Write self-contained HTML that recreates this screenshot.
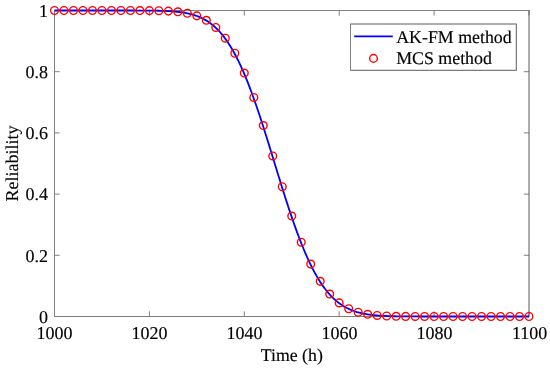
<!DOCTYPE html>
<html><head><meta charset="utf-8"><style>
html,body{margin:0;padding:0;background:#fff;}
svg{display:block;}
text{font-family:"Liberation Serif","Times New Roman",serif;fill:#000;text-rendering:geometricPrecision;stroke:#000;stroke-width:0.15px;}
</style></head><body>
<svg width="550" height="368" viewBox="0 0 550 368">
<rect width="550" height="368" fill="#fff"/>
<g fill="none" stroke="#808080" stroke-width="1">
<path d="M54.50,316.5V311.30M54.50,10.5V15.70M149.40,316.5V311.30M149.40,10.5V15.70M244.30,316.5V311.30M244.30,10.5V15.70M339.20,316.5V311.30M339.20,10.5V15.70M434.10,316.5V311.30M434.10,10.5V15.70M529.00,316.5V311.30M529.00,10.5V15.70M54.5,316.50H59.70M529.0,316.50H523.80M54.5,255.30H59.70M529.0,255.30H523.80M54.5,194.10H59.70M529.0,194.10H523.80M54.5,132.90H59.70M529.0,132.90H523.80M54.5,71.70H59.70M529.0,71.70H523.80M54.5,10.50H59.70M529.0,10.50H523.80"/>
<path d="M54.5,10.0V317.0M55.0,10.5H528.5M55.0,316.5H528.5"/>
<path d="M529.0,10.0V317.0" stroke="#5a5a5a"/>
</g>
<path d="M54.50,10.50 L55.69,10.50 L56.87,10.50 L58.06,10.50 L59.24,10.50 L60.43,10.50 L61.62,10.50 L62.80,10.50 L63.99,10.50 L65.18,10.50 L66.36,10.50 L67.55,10.50 L68.73,10.50 L69.92,10.50 L71.11,10.50 L72.29,10.50 L73.48,10.50 L74.67,10.50 L75.85,10.50 L77.04,10.50 L78.22,10.50 L79.41,10.50 L80.60,10.50 L81.78,10.50 L82.97,10.50 L84.16,10.50 L85.34,10.50 L86.53,10.50 L87.72,10.50 L88.90,10.50 L90.09,10.50 L91.27,10.50 L92.46,10.50 L93.65,10.50 L94.83,10.50 L96.02,10.50 L97.20,10.50 L98.39,10.50 L99.58,10.50 L100.76,10.50 L101.95,10.50 L103.14,10.50 L104.32,10.50 L105.51,10.50 L106.69,10.50 L107.88,10.50 L109.07,10.50 L110.25,10.50 L111.44,10.50 L112.63,10.50 L113.81,10.50 L115.00,10.50 L116.19,10.50 L117.37,10.50 L118.56,10.50 L119.74,10.50 L120.93,10.50 L122.12,10.51 L123.30,10.51 L124.49,10.51 L125.67,10.51 L126.86,10.51 L128.05,10.51 L129.23,10.51 L130.42,10.51 L131.61,10.52 L132.79,10.52 L133.98,10.52 L135.17,10.52 L136.35,10.53 L137.54,10.53 L138.72,10.53 L139.91,10.54 L141.10,10.54 L142.28,10.55 L143.47,10.56 L144.66,10.56 L145.84,10.57 L147.03,10.58 L148.21,10.59 L149.40,10.61 L150.59,10.62 L151.77,10.63 L152.96,10.65 L154.14,10.67 L155.33,10.69 L156.52,10.71 L157.70,10.74 L158.89,10.76 L160.08,10.79 L161.26,10.83 L162.45,10.87 L163.63,10.91 L164.82,10.95 L166.01,11.00 L167.19,11.06 L168.38,11.12 L169.57,11.19 L170.75,11.26 L171.94,11.34 L173.12,11.43 L174.31,11.52 L175.50,11.63 L176.68,11.74 L177.87,11.86 L179.06,12.00 L180.24,12.15 L181.43,12.31 L182.62,12.48 L183.80,12.66 L184.99,12.87 L186.17,13.09 L187.36,13.32 L188.55,13.58 L189.73,13.85 L190.92,14.15 L192.10,14.47 L193.29,14.81 L194.48,15.17 L195.66,15.57 L196.85,15.99 L198.04,16.44 L199.22,16.92 L200.41,17.43 L201.59,17.98 L202.78,18.56 L203.97,19.18 L205.15,19.84 L206.34,20.54 L207.53,21.29 L208.71,22.07 L209.90,22.91 L211.09,23.79 L212.27,24.72 L213.46,25.70 L214.64,26.74 L215.83,27.83 L217.02,28.98 L218.20,30.18 L219.39,31.45 L220.57,32.77 L221.76,34.16 L222.95,35.62 L224.13,37.14 L225.32,38.72 L226.51,40.38 L227.69,42.11 L228.88,43.90 L230.06,45.77 L231.25,47.71 L232.44,49.72 L233.62,51.81 L234.81,53.97 L236.00,56.21 L237.18,58.52 L238.37,60.91 L239.56,63.37 L240.74,65.91 L241.93,68.52 L243.11,71.21 L244.30,73.96 L245.49,76.79 L246.67,79.69 L247.86,82.66 L249.04,85.70 L250.23,88.81 L251.42,91.98 L252.60,95.21 L253.79,98.50 L254.98,101.86 L256.16,105.26 L257.35,108.73 L258.53,112.24 L259.72,115.80 L260.91,119.40 L262.09,123.05 L263.28,126.73 L264.47,130.45 L265.65,134.21 L266.84,137.98 L268.02,141.79 L269.21,145.61 L270.40,149.46 L271.58,153.31 L272.77,157.17 L273.96,161.04 L275.14,164.91 L276.33,168.78 L277.51,172.64 L278.70,176.50 L279.89,180.34 L281.07,184.16 L282.26,187.95 L283.45,191.73 L284.63,195.47 L285.82,199.19 L287.00,202.86 L288.19,206.50 L289.38,210.10 L290.56,213.65 L291.75,217.15 L292.94,220.60 L294.12,224.00 L295.31,227.35 L296.50,230.63 L297.68,233.86 L298.87,237.02 L300.05,240.11 L301.24,243.14 L302.43,246.11 L303.61,249.00 L304.80,251.83 L305.99,254.58 L307.17,257.26 L308.36,259.87 L309.54,262.41 L310.73,264.87 L311.92,267.26 L313.10,269.57 L314.29,271.81 L315.48,273.98 L316.66,276.07 L317.85,278.09 L319.03,280.04 L320.22,281.92 L321.41,283.73 L322.59,285.46 L323.78,287.13 L324.96,288.73 L326.15,290.27 L327.34,291.74 L328.52,293.15 L329.71,294.49 L330.90,295.78 L332.08,297.00 L333.27,298.17 L334.45,299.28 L335.64,300.34 L336.83,301.35 L338.01,302.30 L339.20,303.21 L340.39,304.07 L341.57,304.88 L342.76,305.65 L343.94,306.37 L345.13,307.06 L346.32,307.70 L347.50,308.31 L348.69,308.89 L349.88,309.43 L351.06,309.93 L352.25,310.41 L353.44,310.85 L354.62,311.27 L355.81,311.66 L356.99,312.03 L358.18,312.37 L359.37,312.69 L360.55,312.98 L361.74,313.26 L362.93,313.52 L364.11,313.76 L365.30,313.98 L366.48,314.19 L367.67,314.38 L368.86,314.55 L370.04,314.72 L371.23,314.87 L372.42,315.01 L373.60,315.14 L374.79,315.26 L375.97,315.37 L377.16,315.47 L378.35,315.56 L379.53,315.64 L380.72,315.72 L381.90,315.79 L383.09,315.86 L384.28,315.92 L385.46,315.97 L386.65,316.02 L387.84,316.07 L389.02,316.11 L390.21,316.15 L391.39,316.18 L392.58,316.22 L393.77,316.24 L394.95,316.27 L396.14,316.29 L397.33,316.31 L398.51,316.33 L399.70,316.35 L400.88,316.37 L402.07,316.38 L403.26,316.39 L404.44,316.40 L405.63,316.41 L406.82,316.42 L408.00,316.43 L409.19,316.44 L410.38,316.45 L411.56,316.45 L412.75,316.46 L413.93,316.46 L415.12,316.47 L416.31,316.47 L417.49,316.47 L418.68,316.48 L419.87,316.48 L421.05,316.48 L422.24,316.48 L423.42,316.49 L424.61,316.49 L425.80,316.49 L426.98,316.49 L428.17,316.49 L429.36,316.49 L430.54,316.49 L431.73,316.49 L432.91,316.50 L434.10,316.50 L435.29,316.50 L436.47,316.50 L437.66,316.50 L438.85,316.50 L440.03,316.50 L441.22,316.50 L442.40,316.50 L443.59,316.50 L444.78,316.50 L445.96,316.50 L447.15,316.50 L448.33,316.50 L449.52,316.50 L450.71,316.50 L451.89,316.50 L453.08,316.50 L454.27,316.50 L455.45,316.50 L456.64,316.50 L457.82,316.50 L459.01,316.50 L460.20,316.50 L461.38,316.50 L462.57,316.50 L463.76,316.50 L464.94,316.50 L466.13,316.50 L467.31,316.50 L468.50,316.50 L469.69,316.50 L470.87,316.50 L472.06,316.50 L473.25,316.50 L474.43,316.50 L475.62,316.50 L476.81,316.50 L477.99,316.50 L479.18,316.50 L480.36,316.50 L481.55,316.50 L482.74,316.50 L483.92,316.50 L485.11,316.50 L486.30,316.50 L487.48,316.50 L488.67,316.50 L489.85,316.50 L491.04,316.50 L492.23,316.50 L493.41,316.50 L494.60,316.50 L495.79,316.50 L496.97,316.50 L498.16,316.50 L499.34,316.50 L500.53,316.50 L501.72,316.50 L502.90,316.50 L504.09,316.50 L505.27,316.50 L506.46,316.50 L507.65,316.50 L508.83,316.50 L510.02,316.50 L511.21,316.50 L512.39,316.50 L513.58,316.50 L514.76,316.50 L515.95,316.50 L517.14,316.50 L518.32,316.50 L519.51,316.50 L520.70,316.50 L521.88,316.50 L523.07,316.50 L524.25,316.50 L525.44,316.50 L526.63,316.50 L527.81,316.50 L529.00,316.50" fill="none" stroke="#0000ff" stroke-width="1.8" stroke-linejoin="round"/>
<g fill="none" stroke="#ff0000" stroke-width="1.4"><circle cx="54.50" cy="10.50" r="3.85"/><circle cx="63.99" cy="10.50" r="3.85"/><circle cx="73.48" cy="10.50" r="3.85"/><circle cx="82.97" cy="10.50" r="3.85"/><circle cx="92.46" cy="10.50" r="3.85"/><circle cx="101.95" cy="10.50" r="3.85"/><circle cx="111.44" cy="10.50" r="3.85"/><circle cx="120.93" cy="10.50" r="3.85"/><circle cx="130.42" cy="10.51" r="3.85"/><circle cx="139.91" cy="10.54" r="3.85"/><circle cx="149.40" cy="10.60" r="3.85"/><circle cx="158.89" cy="10.75" r="3.85"/><circle cx="168.38" cy="11.10" r="3.85"/><circle cx="177.87" cy="11.82" r="3.85"/><circle cx="187.36" cy="13.24" r="3.85"/><circle cx="196.85" cy="15.85" r="3.85"/><circle cx="206.34" cy="20.32" r="3.85"/><circle cx="215.83" cy="27.47" r="3.85"/><circle cx="225.32" cy="38.21" r="3.85"/><circle cx="234.81" cy="53.27" r="3.85"/><circle cx="244.30" cy="73.07" r="3.85"/><circle cx="253.79" cy="97.44" r="3.85"/><circle cx="263.28" cy="125.55" r="3.85"/><circle cx="272.77" cy="155.94" r="3.85"/><circle cx="282.26" cy="186.74" r="3.85"/><circle cx="291.75" cy="216.04" r="3.85"/><circle cx="301.24" cy="242.18" r="3.85"/><circle cx="310.73" cy="264.09" r="3.85"/><circle cx="320.22" cy="281.33" r="3.85"/><circle cx="329.71" cy="294.07" r="3.85"/><circle cx="339.20" cy="302.92" r="3.85"/><circle cx="348.69" cy="308.71" r="3.85"/><circle cx="358.18" cy="312.26" r="3.85"/><circle cx="367.67" cy="314.32" r="3.85"/><circle cx="377.16" cy="315.44" r="3.85"/><circle cx="386.65" cy="316.01" r="3.85"/><circle cx="396.14" cy="316.29" r="3.85"/><circle cx="405.63" cy="316.41" r="3.85"/><circle cx="415.12" cy="316.47" r="3.85"/><circle cx="424.61" cy="316.49" r="3.85"/><circle cx="434.10" cy="316.50" r="3.85"/><circle cx="443.59" cy="316.50" r="3.85"/><circle cx="453.08" cy="316.50" r="3.85"/><circle cx="462.57" cy="316.50" r="3.85"/><circle cx="472.06" cy="316.50" r="3.85"/><circle cx="481.55" cy="316.50" r="3.85"/><circle cx="491.04" cy="316.50" r="3.85"/><circle cx="500.53" cy="316.50" r="3.85"/><circle cx="510.02" cy="316.50" r="3.85"/><circle cx="519.51" cy="316.50" r="3.85"/><circle cx="529.00" cy="316.50" r="3.85"/></g>
<g font-size="18"><text x="54.50" y="339.2" text-anchor="middle">1000</text><text x="149.52" y="339.2" text-anchor="middle">1020</text><text x="244.54" y="339.2" text-anchor="middle">1040</text><text x="339.56" y="339.2" text-anchor="middle">1060</text><text x="434.58" y="339.2" text-anchor="middle">1080</text><text x="529.60" y="339.2" text-anchor="middle">1100</text><text x="48.0" y="322.80" text-anchor="end">0</text><text x="48.0" y="261.60" text-anchor="end">0.2</text><text x="48.0" y="200.40" text-anchor="end">0.4</text><text x="48.0" y="139.20" text-anchor="end">0.6</text><text x="48.0" y="78.00" text-anchor="end">0.8</text><text x="48.0" y="16.80" text-anchor="end">1</text></g>
<text x="291.8" y="360.9" font-size="17.8" text-anchor="middle">Time (h)</text>
<text transform="translate(17.8,163.6) rotate(-90)" font-size="18" text-anchor="middle">Reliability</text>
<rect x="350.5" y="24" width="165.79999999999995" height="46.3" fill="#fff"/>
<path d="M350.5,23.5V70.8" stroke="#808080" stroke-width="1" fill="none"/>
<path d="M351.0,24H515.8M351.0,70.3H515.8M516.3,23.5V70.8" stroke="#5a5a5a" stroke-width="1" fill="none"/>
<path d="M354.2,36.3H392.8" stroke="#0000ff" stroke-width="1.8"/>
<circle cx="373.5" cy="58.4" r="3.85" fill="none" stroke="#ff0000" stroke-width="1.4"/>
<g font-size="17.85">
<text x="396.2" y="42.9">AK-FM method</text>
<text x="396.2" y="64.3">MCS method</text>
</g>
</svg>
</body></html>
